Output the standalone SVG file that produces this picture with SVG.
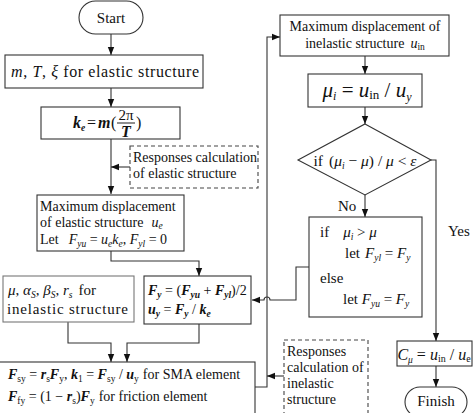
<svg xmlns="http://www.w3.org/2000/svg" width="474" height="413" viewBox="0 0 474 413" font-size="14">
<defs>
<marker id="ah" markerUnits="userSpaceOnUse" markerWidth="8" markerHeight="8" viewBox="0 0 8 8" refX="8" refY="4" orient="auto">
<path d="M0,0.8 L8,4 L0,7.2 Z" fill="#111"/>
</marker>
</defs>
<style>
text{font-family:"Liberation Serif","DejaVu Serif",serif;fill:#111}
.box{fill:#fff;stroke:#333;stroke-width:1.1}
.dash{fill:#fff;stroke:#444;stroke-width:1.1;stroke-dasharray:4,3}
.ln{fill:none;stroke:#333;stroke-width:1.1}
.ar{marker-end:url(#ah)}
.i{font-style:italic}
.bi{font-style:italic;font-weight:bold}
.s{font-size:9.5px}
.m{text-anchor:middle}
</style>
<rect width="474" height="413" fill="#fff"/>

<g id="connectors">
<path class="ln ar" d="M111,34 V55"/>
<path class="ln ar" d="M111,88 V107"/>
<path class="ln ar" d="M111,139 V194"/>
<path class="ln ar" d="M130,167 H111"/>
<path class="ln ar" d="M111,251 V261 H199 V276"/>
<path class="ln ar" d="M68,322 V343 H111 V362"/>
<path class="ln ar" d="M199,324 V343 H127 V362"/>
<path class="ln ar" d="M255,387 H267 V37 H280"/>
<path class="ln ar" d="M284,376 H267"/>
<path class="ln ar" d="M365,56 V74"/>
<path class="ln ar" d="M365,107 V124"/>
<path class="ln ar" d="M365,195 V217"/>
<path class="ln ar" d="M309,267 H296 V300 H270 A3,3 0 0 0 264,300 H252"/>
<path class="ln ar" d="M431,160 H436 V341"/>
<path class="ln ar" d="M436,366 V387"/>
</g>

<g id="start">
<rect class="box" x="79" y="1" width="64" height="33" rx="16.5"/>
<text class="m" x="111" y="23" font-size="15">Start</text>
</g>

<g id="input-elastic">
<rect class="box" x="5" y="55" width="198" height="33"/>
<text x="11" y="77" font-size="16" textLength="188" lengthAdjust="spacing"><tspan class="i">m</tspan>, <tspan class="i">T</tspan>, <tspan class="i">ξ</tspan> for elastic structure</text>
</g>

<g id="ke">
<rect class="box" x="41" y="107" width="139" height="32"/>
<text x="73" y="128" font-size="16"><tspan class="bi">k</tspan><tspan class="bi s" dy="3">e</tspan></text>
<text x="87" y="128" font-size="16">=</text>
<text x="98" y="128" font-size="16" class="bi">m</text>
<text x="111" y="128" font-size="16">(</text>
<text class="m" x="126" y="120" font-size="15">2π</text>
<line class="ln" x1="117" y1="123" x2="135" y2="123"/>
<text class="m bi" x="126" y="137" font-size="16">T</text>
<text x="136" y="128" font-size="16">)</text>
</g>

<g id="resp-elastic">
<rect class="dash" x="130" y="146" width="128" height="42"/>
<text x="133" y="162">Responses calculation</text>
<text x="133" y="178">of elastic structure</text>
</g>

<g id="max-disp-elastic">
<rect class="box" x="37" y="195" width="147" height="56"/>
<text x="40" y="211">Maximum displacement</text>
<text x="40" y="227">of elastic structure<tspan class="i" dx="8">u</tspan><tspan class="i s" dy="2">e</tspan></text>
<text x="40" y="244">Let<tspan class="i" dx="10">F</tspan><tspan class="i s" dy="3">yu</tspan><tspan dy="-3"> = </tspan><tspan class="i">u</tspan><tspan class="i s" dy="3">e</tspan><tspan class="i" dy="-3">k</tspan><tspan class="i s" dy="3">e</tspan><tspan dy="-3">, </tspan><tspan class="i">F</tspan><tspan class="i s" dy="3">yl</tspan><tspan dy="-3"> = 0</tspan></text>
</g>

<g id="input-inelastic">
<rect class="box" x="3" y="276" width="131" height="46" style="stroke:#777"/>
<text x="8" y="295" font-size="15"><tspan class="i">μ</tspan>, <tspan class="i">α</tspan><tspan class="i s" dy="3">S</tspan><tspan dy="-3">, </tspan><tspan class="i">β</tspan><tspan class="i s" dy="3">S</tspan><tspan dy="-3">, </tspan><tspan class="i">r</tspan><tspan class="i s" dy="3">s</tspan><tspan dy="-3" dx="6">for</tspan></text>
<text x="7" y="314" font-size="15" textLength="121" lengthAdjust="spacing">inelastic structure</text>
</g>

<g id="fy-uy">
<rect class="box" x="144" y="276" width="107" height="48"/>
<text x="148" y="295"><tspan class="bi">F</tspan><tspan class="bi s" dy="3">y</tspan><tspan dy="-3"> = (</tspan><tspan class="bi">F</tspan><tspan class="bi s" dy="3">yu</tspan><tspan dy="-3"> + </tspan><tspan class="bi">F</tspan><tspan class="bi s" dy="3">yl</tspan><tspan dy="-3">)/2</tspan></text>
<text x="148" y="314"><tspan class="bi">u</tspan><tspan class="bi s" dy="3">y</tspan><tspan dy="-3"> = </tspan><tspan class="bi">F</tspan><tspan class="bi s" dy="3">y</tspan><tspan dy="-3"> / </tspan><tspan class="bi">k</tspan><tspan class="bi s" dy="3">e</tspan></text>
</g>

<g id="sma-friction">
<rect class="box" x="-2" y="362" width="257" height="60"/>
<text x="8" y="379"><tspan class="bi">F</tspan><tspan class="s" dy="3">sy</tspan><tspan dy="-3"> = </tspan><tspan class="bi">r</tspan><tspan class="s" dy="3">s</tspan><tspan class="bi" dy="-3">F</tspan><tspan class="s" dy="3">y</tspan><tspan dy="-3">, </tspan><tspan class="bi">k</tspan><tspan class="s" dy="3">1</tspan><tspan dy="-3"> = </tspan><tspan class="bi">F</tspan><tspan class="s" dy="3">sy</tspan><tspan dy="-3"> / </tspan><tspan class="bi">u</tspan><tspan class="s" dy="3">y</tspan><tspan dy="-3" dx="4">for SMA element</tspan></text>
<text x="8" y="401"><tspan class="bi">F</tspan><tspan class="s" dy="3">fy</tspan><tspan dy="-3"> = (1 − </tspan><tspan class="bi">r</tspan><tspan class="s" dy="3">s</tspan><tspan dy="-3">)</tspan><tspan class="bi">F</tspan><tspan class="s" dy="3">y</tspan><tspan dy="-3" dx="4">for friction element</tspan></text>
</g>

<g id="max-disp-inelastic">
<rect class="box" x="280" y="15" width="169" height="41"/>
<text class="m" x="365" y="31">Maximum displacement of</text>
<text class="m" x="365" y="48">inelastic structure<tspan class="i" dx="6">u</tspan><tspan class="s" dy="2">in</tspan></text>
</g>

<g id="mu-i">
<rect class="box" x="308" y="74" width="114" height="33"/>
<text class="m" x="367" y="97" font-size="21"><tspan class="i">μ</tspan><tspan class="i" font-size="12" dy="3">i</tspan><tspan dy="-3"> = </tspan><tspan class="i">u</tspan><tspan font-size="13" dy="2">in</tspan><tspan dy="-2"> / </tspan><tspan class="i">u</tspan><tspan class="i" font-size="12" dy="4">y</tspan></text>
</g>

<g id="check">
<path class="box" d="M365,124 L431,160 L365,195 L298,160 Z"/>
<text class="m" x="365" y="166" font-size="15.5">if<tspan dx="6">(</tspan><tspan class="i">μ</tspan><tspan class="i s" dy="3">i</tspan><tspan dy="-3"> − </tspan><tspan class="i">μ</tspan>) / <tspan class="i">μ</tspan> &lt; <tspan class="i">ε</tspan></text>
<text x="338" y="211" font-size="15">No</text>
<text x="448" y="236" font-size="15">Yes</text>
</g>

<g id="update">
<rect class="box" x="309" y="217" width="113" height="100"/>
<text x="320" y="237" font-size="15">if<tspan class="i" dx="14">μ</tspan><tspan class="i s" dy="3">i</tspan><tspan dy="-3"> &gt; </tspan><tspan class="i">μ</tspan></text>
<text x="345" y="258" font-size="15">let<tspan class="i" dx="5">F</tspan><tspan class="i s" dy="3">yl</tspan><tspan dy="-3"> = </tspan><tspan class="i">F</tspan><tspan class="i s" dy="3">y</tspan></text>
<text x="320" y="283" font-size="15">else</text>
<text x="343" y="304" font-size="15">let <tspan class="i">F</tspan><tspan class="i s" dy="3">yu</tspan><tspan dy="-3"> = </tspan><tspan class="i">F</tspan><tspan class="i s" dy="3">y</tspan></text>
</g>

<g id="resp-inelastic">
<rect class="dash" x="284" y="340" width="84" height="80"/>
<text x="287" y="356">Responses</text>
<text x="287" y="372">calculation of</text>
<text x="287" y="388">inelastic</text>
<text x="287" y="404">structure</text>
</g>

<g id="cmu">
<rect class="box" x="397" y="341" width="75" height="25"/>
<text class="m" x="434" y="360" font-size="16"><tspan class="i">C</tspan><tspan class="i s" dy="3">μ</tspan><tspan dy="-3"> = </tspan><tspan class="i">u</tspan><tspan font-size="10" dy="2">in</tspan><tspan dy="-2"> / </tspan><tspan class="i">u</tspan><tspan font-size="10" dy="2">e</tspan></text>
</g>

<g id="finish">
<rect class="box" x="405" y="387" width="62" height="30" rx="15"/>
<text class="m" x="436" y="406" font-size="15">Finish</text>
</g>
</svg>
